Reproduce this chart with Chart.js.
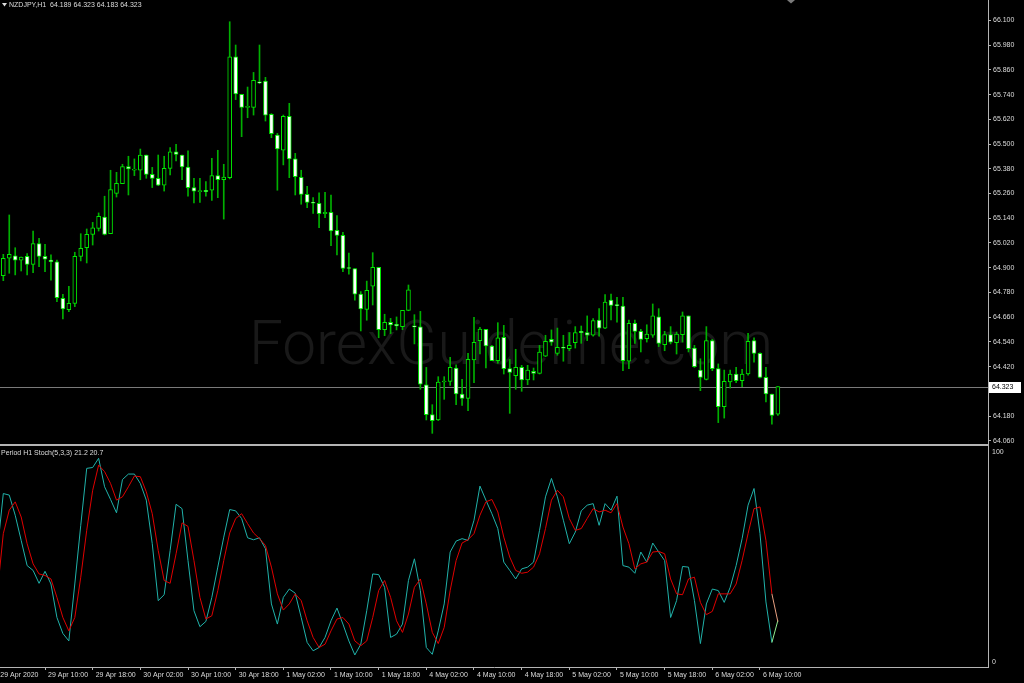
<!DOCTYPE html>
<html><head><meta charset="utf-8">
<script src="https://cdn.jsdelivr.net/npm/chart.js@4.4.1/dist/chart.umd.min.js"></script>
<style>
html,body{margin:0;padding:0;background:#000;width:1024px;height:683px;overflow:hidden}
#wrap{position:relative;width:1024px;height:683px;background:#000}
#cA{position:absolute;left:0;top:0}
#cB{position:absolute;left:0;top:446px}
</style></head><body>
<div id="wrap">
<canvas id="cA" width="1024" height="446"></canvas>
<canvas id="cB" width="1024" height="237"></canvas>
</div>
<script>
// ---- data (NZDJPY H1, bar 0 = 29 Apr 03:00, last bar = 6 May 13:00) ----
const open = [64.861,64.946,64.958,64.936,64.955,64.916,65.017,64.955,64.937,64.929,
64.751,64.696,64.727,64.955,64.997,65.062,65.091,65.146,65.065,65.261,
65.308,65.391,65.373,65.373,65.447,65.353,65.334,65.301,65.382,65.463,
65.447,65.389,65.289,65.269,65.276,65.276,65.347,65.327,65.337,65.924,
65.742,65.678,65.678,65.800,65.806,65.645,65.544,65.470,65.635,65.428,
65.339,65.256,65.215,65.213,65.162,65.169,65.081,65.057,64.897,64.896,
64.772,64.698,64.810,64.902,64.599,64.635,64.625,64.614,64.693,64.615,
64.613,64.332,64.187,64.161,64.345,64.348,64.413,64.287,64.266,64.452,
64.546,64.601,64.520,64.449,64.562,64.410,64.376,64.416,64.355,64.397,
64.387,64.471,64.552,64.484,64.511,64.507,64.536,64.591,64.585,64.572,
64.646,64.607,64.743,64.717,64.714,64.446,64.630,64.591,64.556,64.572,
64.662,64.526,64.575,64.536,64.575,64.666,64.510,64.403,64.358,64.546,
64.410,64.225,64.345,64.384,64.352,64.384,64.546,64.484,64.368,64.287,
64.189];
const high = [64.965,65.156,64.997,64.952,64.968,65.078,65.043,65.014,64.962,64.937,
64.771,64.810,64.975,65.065,65.088,65.120,65.166,65.247,65.373,65.363,
65.402,65.441,65.428,65.476,65.447,65.387,65.447,65.441,65.483,65.499,
65.447,65.467,65.334,65.334,65.318,65.431,65.470,65.402,66.094,65.981,
65.742,65.777,65.848,65.981,65.824,65.648,65.552,65.641,65.698,65.455,
65.373,65.295,65.240,65.264,65.266,65.253,65.153,65.072,64.971,64.896,
64.784,64.835,64.973,64.902,64.674,64.654,64.661,64.693,64.816,64.672,
64.688,64.416,64.235,64.371,64.371,64.465,64.429,64.358,64.484,64.659,
64.611,64.601,64.523,64.633,64.620,64.455,64.504,64.426,64.426,64.413,
64.523,64.572,64.598,64.607,64.572,64.585,64.614,64.617,64.666,64.653,
64.701,64.769,64.772,64.756,64.756,64.646,64.646,64.601,64.623,64.724,
64.701,64.591,64.614,64.588,64.685,64.666,64.523,64.458,64.614,64.552,
64.433,64.403,64.403,64.416,64.407,64.581,64.559,64.487,64.416,64.287,
64.323];
const low = [64.837,64.873,64.865,64.884,64.865,64.876,64.905,64.881,64.840,64.735,
64.651,64.687,64.711,64.933,64.923,65.010,65.078,65.059,65.065,65.243,
65.308,65.253,65.347,65.327,65.334,65.289,65.298,65.272,65.350,65.418,
65.327,65.247,65.214,65.217,65.247,65.227,65.240,65.136,65.331,65.716,
65.536,65.628,65.641,65.793,65.612,65.531,65.276,65.399,65.337,65.253,
65.208,65.191,65.164,65.094,65.143,65.007,64.962,64.881,64.868,64.742,
64.593,64.645,64.719,64.560,64.570,64.580,64.598,64.599,64.691,64.530,
64.310,64.161,64.096,64.158,64.261,64.329,64.235,64.232,64.206,64.342,
64.481,64.413,64.449,64.436,64.384,64.193,64.310,64.300,64.332,64.355,
64.384,64.468,64.523,64.475,64.446,64.497,64.510,64.533,64.546,64.568,
64.568,64.604,64.646,64.636,64.400,64.410,64.533,64.491,64.539,64.562,
64.517,64.497,64.530,64.481,64.539,64.491,64.416,64.303,64.355,64.400,
64.148,64.170,64.316,64.342,64.323,64.378,64.442,64.365,64.248,64.141,
64.183];
const close = [64.946,64.965,64.937,64.952,64.916,65.017,64.955,64.941,64.929,64.755,
64.700,64.727,64.955,64.994,65.062,65.094,65.149,65.062,65.279,65.310,
65.391,65.379,65.379,65.447,65.353,65.334,65.301,65.382,65.463,65.450,
65.389,65.289,65.271,65.272,65.269,65.347,65.327,65.340,65.924,65.743,
65.678,65.679,65.810,65.797,65.641,65.551,65.476,65.635,65.428,65.342,
65.256,65.217,65.213,65.162,65.169,65.078,65.057,64.897,64.896,64.772,
64.700,64.790,64.902,64.599,64.635,64.622,64.617,64.693,64.792,64.613,
64.335,64.187,64.158,64.345,64.348,64.416,64.287,64.266,64.455,64.538,
64.602,64.520,64.449,64.559,64.410,64.392,64.416,64.355,64.403,64.387,
64.491,64.543,64.539,64.513,64.509,64.523,64.585,64.585,64.573,64.643,
64.606,64.733,64.717,64.716,64.449,64.630,64.591,64.552,64.578,64.666,
64.533,64.575,64.539,64.578,64.666,64.507,64.420,64.368,64.546,64.410,
64.225,64.348,64.384,64.352,64.384,64.543,64.484,64.368,64.287,64.183,
64.323];
// Stochastic (5,3,3), first value belongs to the bar just left of bar 0
const stochMain = [53.1,
79.2,78.5,69.3,57.8,46.3,44.1,38.2,43.7,37.9,22.6,
15.3,11.9,37.9,64.7,90.7,91.1,95.3,82.3,76.5,70.4,
85.6,88.1,88.1,83.8,76.2,56.3,30.3,33.0,53.2,74.3,
72.3,48.6,25.7,18.4,20.8,31.8,45.6,59.3,71.9,71.3,
67.8,59.0,58.1,59.0,54.0,28.8,19.6,31.8,35.6,33.7,
22.6,11.2,7.4,8.9,13.5,21.1,26.9,19.6,11.9,5.5,
10.4,25.7,42.5,42.2,36.4,13.5,15.0,19.6,39.5,49.4,
34.9,8.9,5.8,16.5,28.8,52.5,57.5,58.6,57.8,67.0,
82.6,76.2,70.0,63.2,47.9,44.1,40.2,44.8,45.6,47.9,
62.4,77.7,86.1,77.7,67.0,56.3,61.6,71.3,73.9,74.6,
64.7,74.6,71.6,78.0,46.3,45.6,42.8,52.5,47.9,56.6,
52.5,48.6,22.6,30.3,45.9,45.6,30.3,10.7,28.8,35.6,
34.9,29.5,36.4,46.3,58.6,73.9,81.5,61.0,29.7,11.2,
21.2];
const stochSignal = [34.1,
60.9,71.6,75.4,68.5,56.3,47.1,42.5,41.8,40.2,31.8,
22.6,16.5,22.6,41.0,62.4,80.7,92.2,89.2,83.8,76.2,
77.7,82.3,87.2,86.9,80.0,70.0,53.2,39.5,38.2,51.7,
65.8,64.2,48.6,31.8,21.9,23.4,34.9,48.6,61.2,67.8,
70.0,65.5,61.2,58.6,55.5,45.6,33.4,26.0,28.8,33.4,
30.3,21.1,13.5,8.9,10.4,16.5,21.9,22.6,19.6,11.9,
9.7,11.9,22.6,34.9,39.5,31.8,21.1,15.8,24.2,36.4,
40.2,28.8,15.8,10.7,18.1,34.9,48.6,56.6,58.1,60.9,
69.3,75.4,76.5,70.8,59.3,50.2,44.1,42.8,43.3,45.6,
51.7,63.2,76.2,80.7,77.7,67.8,62.4,63.2,67.8,72.3,
70.8,71.6,70.4,74.6,63.9,56.3,44.8,47.1,47.9,52.5,
52.8,51.7,40.2,33.4,33.0,40.2,41.0,29.5,23.9,25.4,
33.4,33.4,33.4,37.9,48.6,60.9,72.3,73.1,57.8,33.4,
20.7];
const priceTicks = [66.100,65.980,65.860,65.740,65.620,65.500,65.380,65.260,65.140,65.020,
64.900,64.780,64.660,64.540,64.420,64.300,64.180,64.060];
const timeTickIdx = [-1,7,15,23,31,39,47,55,63,71,79,87,95,103,111,119,127];
const timeTickLabels = ['29 Apr 2020','29 Apr 10:00','29 Apr 18:00','30 Apr 02:00','30 Apr 10:00',
'30 Apr 18:00','1 May 02:00','1 May 10:00','1 May 18:00','4 May 02:00','4 May 10:00',
'4 May 18:00','5 May 02:00','5 May 10:00','5 May 18:00','6 May 02:00','6 May 10:00'];
const symbolTitle = 'NZDJPY,H1';
const indicatorTitle = 'Period H1 Stoch(5,3,3)';
const watermark = 'ForexGuideline.com';

// ---- view settings ----
const XMIN = -0.554, XMAX = 165.27;
const PMIN = 64.0442, PMAX = 66.1995;
const AXIS_COL = '#b4b4b4';
const TXT_COL = '#dcdcdc';
const FONT = 'Liberation Sans';
const last = close.length - 1;

const noPad = s => { s.paddingTop = 0; s.paddingBottom = 0; s.paddingLeft = 0; s.paddingRight = 0; };

const plugA = {
  id:'plugA',
  beforeDatasetsDraw(chart){
    const ctx = chart.ctx, ys = chart.scales.y, ca = chart.chartArea;
    ctx.save();
    ctx.fillStyle = '#191919';
    ctx.font = '300 62px Roboto';
    ctx.textBaseline = 'alphabetic';
    ctx.textAlign = 'left';
    ctx.fillText(watermark, 249, 364, 524);
    const yb = Math.round(ys.getPixelForValue(close[last])) + 0.5;
    ctx.strokeStyle = '#7a7a7a'; ctx.lineWidth = 1;
    ctx.beginPath(); ctx.moveTo(ca.left, yb); ctx.lineTo(ca.right, yb); ctx.stroke();
    ctx.restore();
  },
  afterDraw(chart){
    const ctx = chart.ctx, ys = chart.scales.y, ca = chart.chartArea;
    ctx.save();
    ctx.fillStyle = AXIS_COL;
    ctx.fillRect(0, 444, ca.right + 1, 2);
    const yb = Math.round(ys.getPixelForValue(close[last]));
    ctx.fillStyle = '#ffffff';
    ctx.fillRect(ca.right + 1, yb - 5, 32, 11);
    ctx.fillStyle = '#000000';
    ctx.font = '7px ' + FONT;
    ctx.textBaseline = 'middle'; ctx.textAlign = 'left';
    ctx.fillText(close[last].toFixed(3), ca.right + 4, yb + 0.5);
    ctx.fillStyle = TXT_COL;
    ctx.beginPath(); ctx.moveTo(2, 3); ctx.lineTo(7, 3); ctx.lineTo(4.5, 6.5); ctx.closePath(); ctx.fill();
    ctx.font = '7px ' + FONT;
    ctx.fillText(symbolTitle + '  ' + [open[last], high[last], low[last], close[last]].map(v => v.toFixed(3)).join(' '), 9, 5);
    ctx.fillStyle = '#7a7a7a';
    ctx.beginPath(); ctx.moveTo(787, 0); ctx.lineTo(795, 0); ctx.lineTo(791, 3.5); ctx.closePath(); ctx.fill();
    ctx.restore();
  }
};

new Chart(document.getElementById('cA'), {
  type:'bar',
  data:{datasets:[
    {label:'body', data: open.map((o,i)=>({x:i, y:[o, close[i]]})), barThickness:4, minBarLength:1,
     backgroundColor: open.map((o,i)=> close[i] >= o ? '#000000' : '#ffffff'),
     borderColor:'#00e800', borderWidth:1, borderSkipped:false, grouped:false},
    {label:'wick', data: open.map((o,i)=>({x:i, y:[low[i], high[i]]})), barThickness:1,
     backgroundColor:'#00b000', borderWidth:0, grouped:false}
  ]},
  options:{
    responsive:false, animation:false, events:[],
    layout:{padding:{left:0,right:0,top:0,bottom:2}},
    plugins:{legend:{display:false}, tooltip:{enabled:false}},
    scales:{
      x:{type:'linear', min:XMIN, max:XMAX, offset:false, display:false},
      y:{position:'right', min:PMIN, max:PMAX,
         afterFit(s){ s.width = 36; noPad(s); },
         afterBuildTicks(s){ s.ticks = priceTicks.map(v => ({value:v})); },
         ticks:{autoSkip:false, color:TXT_COL, font:{family:FONT, size:7}, padding:2, callback:v => Number(v).toFixed(3)},
         grid:{drawOnChartArea:false, drawTicks:true, tickLength:3, color:AXIS_COL},
         border:{display:true, color:AXIS_COL}}
    }
  },
  plugins:[plugA]
});

const plugB = {
  id:'plugB',
  afterDraw(chart){
    const ctx = chart.ctx, ca = chart.chartArea, ys = chart.scales.y;
    ctx.save();
    ctx.fillStyle = AXIS_COL;
    ctx.fillRect(ca.right, 0, 1, ca.top);
    ctx.fillStyle = TXT_COL;
    ctx.font = '7px ' + FONT;
    ctx.textAlign = 'left'; ctx.textBaseline = 'middle';
    ctx.fillText(indicatorTitle + ' ' + stochMain[stochMain.length-1].toFixed(1) + ' ' + stochSignal[stochSignal.length-1].toFixed(1), 1, 7);
    ctx.textBaseline = 'top';
    ctx.fillText('100', ca.right + 4, ys.getPixelForValue(100) + 1);
    ctx.textBaseline = 'bottom';
    ctx.fillText('0', ca.right + 4, ys.getPixelForValue(0) - 1);
    ctx.restore();
  }
};

const lastSeg = (n, col) => c => c.p1DataIndex === n - 1 ? col : undefined;
new Chart(document.getElementById('cB'), {
  type:'line',
  data:{datasets:[
    {label:'signal', data: stochSignal.map((v,j)=>({x:j-1, y:v})), borderColor:'#e00000', borderWidth:1,
     pointRadius:0, tension:0, segment:{borderColor: lastSeg(stochSignal.length, '#e8a080')}},
    {label:'main', data: stochMain.map((v,j)=>({x:j-1, y:v})), borderColor:'#20b2aa', borderWidth:1,
     pointRadius:0, tension:0, segment:{borderColor: lastSeg(stochMain.length, '#90ee90')}}
  ]},
  options:{
    responsive:false, animation:false, events:[],
    layout:{padding:{left:0,right:0,top:2,bottom:0}},
    plugins:{legend:{display:false}, tooltip:{enabled:false}},
    scales:{
      x:{type:'linear', min:XMIN, max:XMAX, offset:false,
         afterFit(s){ s.height = 16; noPad(s); },
         afterBuildTicks(s){ s.ticks = timeTickIdx.map(v => ({value:v})); },
         ticks:{autoSkip:false, maxRotation:0, minRotation:0, align:'start', labelOffset:3, padding:1,
                color:TXT_COL, font:{family:FONT, size:7}, callback:(v,i) => timeTickLabels[i]},
         grid:{drawOnChartArea:false, drawTicks:true, tickLength:3, color:AXIS_COL},
         border:{display:true, color:AXIS_COL}},
      y:{position:'right', min:0, max:100,
         afterFit(s){ s.width = 36; noPad(s); },
         ticks:{display:false},
         grid:{display:false, drawTicks:false},
         border:{display:true, color:AXIS_COL}}
    }
  },
  plugins:[plugB]
});
</script>
</body></html>
